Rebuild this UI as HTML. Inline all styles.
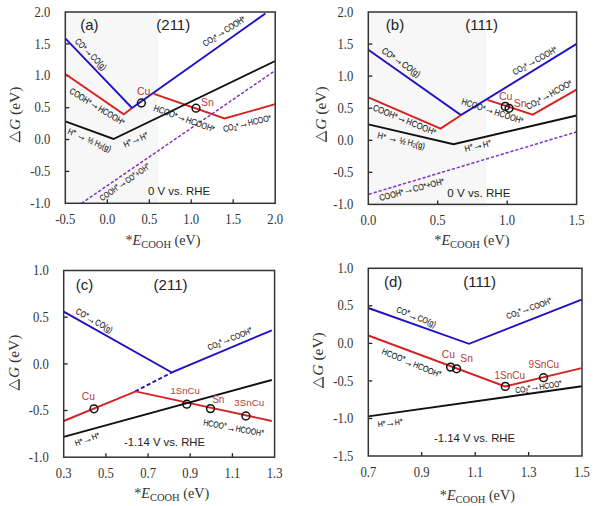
<!DOCTYPE html>
<html><head><meta charset="utf-8"><style>
html,body{margin:0;padding:0;background:#fff;}
svg{display:block;}
.tk{font-family:"Liberation Serif",serif;font-size:14.5px;fill:#333;}
.yt{font-family:"Liberation Serif",serif;font-size:15.5px;fill:#333;}
.ax{font-family:"Liberation Serif",serif;font-size:14.2px;fill:#333;}
.s{font-family:"Liberation Sans",sans-serif;}
</style></head><body>
<svg width="599" height="506" viewBox="0 0 599 506">
<rect width="599" height="506" fill="#fff"/>
<rect x="65.3" y="12.0" width="92.7" height="191.3" fill="#f7f7f7"/>
<text class="tk" transform="translate(65.3,223.8) scale(0.87,1)" text-anchor="middle">-0.5</text>
<line x1="107.3" y1="203.3" x2="107.3" y2="199.3" stroke="#222" stroke-width="1.3"/>
<text class="tk" transform="translate(107.3,223.8) scale(0.87,1)" text-anchor="middle">0.0</text>
<line x1="149.3" y1="203.3" x2="149.3" y2="199.3" stroke="#222" stroke-width="1.3"/>
<text class="tk" transform="translate(149.3,223.8) scale(0.87,1)" text-anchor="middle">0.5</text>
<line x1="191.2" y1="203.3" x2="191.2" y2="199.3" stroke="#222" stroke-width="1.3"/>
<text class="tk" transform="translate(191.2,223.8) scale(0.87,1)" text-anchor="middle">1.0</text>
<line x1="233.2" y1="203.3" x2="233.2" y2="199.3" stroke="#222" stroke-width="1.3"/>
<text class="tk" transform="translate(233.2,223.8) scale(0.87,1)" text-anchor="middle">1.5</text>
<text class="tk" transform="translate(275.2,223.8) scale(0.87,1)" text-anchor="middle">2.0</text>
<text class="tk" transform="translate(50.3,207.9) scale(0.87,1)" text-anchor="end">-1.0</text>
<line x1="65.3" y1="171.4" x2="69.3" y2="171.4" stroke="#222" stroke-width="1.3"/>
<text class="tk" transform="translate(50.3,176.0) scale(0.87,1)" text-anchor="end">-0.5</text>
<line x1="65.3" y1="139.5" x2="69.3" y2="139.5" stroke="#222" stroke-width="1.3"/>
<text class="tk" transform="translate(50.3,144.1) scale(0.87,1)" text-anchor="end">0.0</text>
<line x1="65.3" y1="107.7" x2="69.3" y2="107.7" stroke="#222" stroke-width="1.3"/>
<text class="tk" transform="translate(50.3,112.2) scale(0.87,1)" text-anchor="end">0.5</text>
<line x1="65.3" y1="75.8" x2="69.3" y2="75.8" stroke="#222" stroke-width="1.3"/>
<text class="tk" transform="translate(50.3,80.4) scale(0.87,1)" text-anchor="end">1.0</text>
<line x1="65.3" y1="43.9" x2="69.3" y2="43.9" stroke="#222" stroke-width="1.3"/>
<text class="tk" transform="translate(50.3,48.5) scale(0.87,1)" text-anchor="end">1.5</text>
<text class="tk" transform="translate(50.3,16.6) scale(0.87,1)" text-anchor="end">2.0</text>
<text class="ax" x="125.5" y="244.6">*<tspan font-style="italic">E</tspan><tspan font-size="10.5" dy="3.5">COOH</tspan><tspan dy="-3.5"> (eV)</tspan></text>
<path d="M19.8,142.0 L19.8,131.6 L9.8,136.8 Z" fill="none" stroke="#333" stroke-width="0.8" stroke-linejoin="miter"/>
<line x1="19.5" y1="142.3" x2="19.5" y2="131.3" stroke="#333" stroke-width="1.1"/>
<text class="yt" transform="translate(19.8,130.0) rotate(-90)"><tspan font-style="italic">G</tspan> (eV)</text>
<rect x="368.3" y="12.0" width="118.2" height="192.4" fill="#f7f7f7"/>
<text class="tk" transform="translate(368.3,224.9) scale(0.87,1)" text-anchor="middle">0.0</text>
<line x1="437.7" y1="204.4" x2="437.7" y2="200.4" stroke="#222" stroke-width="1.3"/>
<text class="tk" transform="translate(437.7,224.9) scale(0.87,1)" text-anchor="middle">0.5</text>
<line x1="507.2" y1="204.4" x2="507.2" y2="200.4" stroke="#222" stroke-width="1.3"/>
<text class="tk" transform="translate(507.2,224.9) scale(0.87,1)" text-anchor="middle">1.0</text>
<text class="tk" transform="translate(576.6,224.9) scale(0.87,1)" text-anchor="middle">1.5</text>
<text class="tk" transform="translate(353.3,209.0) scale(0.87,1)" text-anchor="end">-1.0</text>
<line x1="368.3" y1="172.3" x2="372.3" y2="172.3" stroke="#222" stroke-width="1.3"/>
<text class="tk" transform="translate(353.3,176.9) scale(0.87,1)" text-anchor="end">-0.5</text>
<line x1="368.3" y1="140.3" x2="372.3" y2="140.3" stroke="#222" stroke-width="1.3"/>
<text class="tk" transform="translate(353.3,144.9) scale(0.87,1)" text-anchor="end">0.0</text>
<line x1="368.3" y1="108.2" x2="372.3" y2="108.2" stroke="#222" stroke-width="1.3"/>
<text class="tk" transform="translate(353.3,112.8) scale(0.87,1)" text-anchor="end">0.5</text>
<line x1="368.3" y1="76.1" x2="372.3" y2="76.1" stroke="#222" stroke-width="1.3"/>
<text class="tk" transform="translate(353.3,80.7) scale(0.87,1)" text-anchor="end">1.0</text>
<line x1="368.3" y1="44.1" x2="372.3" y2="44.1" stroke="#222" stroke-width="1.3"/>
<text class="tk" transform="translate(353.3,48.7) scale(0.87,1)" text-anchor="end">1.5</text>
<text class="tk" transform="translate(353.3,16.6) scale(0.87,1)" text-anchor="end">2.0</text>
<text class="ax" x="434.3" y="244.6">*<tspan font-style="italic">E</tspan><tspan font-size="10.5" dy="3.5">COOH</tspan><tspan dy="-3.5"> (eV)</tspan></text>
<path d="M326.3,141.8 L326.3,131.4 L316.3,136.6 Z" fill="none" stroke="#333" stroke-width="0.8" stroke-linejoin="miter"/>
<line x1="326.0" y1="142.1" x2="326.0" y2="131.1" stroke="#333" stroke-width="1.1"/>
<text class="yt" transform="translate(326.3,129.8) rotate(-90)"><tspan font-style="italic">G</tspan> (eV)</text>
<text class="tk" transform="translate(63.7,477.7) scale(0.87,1)" text-anchor="middle">0.3</text>
<line x1="105.9" y1="457.2" x2="105.9" y2="453.2" stroke="#222" stroke-width="1.3"/>
<text class="tk" transform="translate(105.9,477.7) scale(0.87,1)" text-anchor="middle">0.5</text>
<line x1="148.1" y1="457.2" x2="148.1" y2="453.2" stroke="#222" stroke-width="1.3"/>
<text class="tk" transform="translate(148.1,477.7) scale(0.87,1)" text-anchor="middle">0.7</text>
<line x1="190.2" y1="457.2" x2="190.2" y2="453.2" stroke="#222" stroke-width="1.3"/>
<text class="tk" transform="translate(190.2,477.7) scale(0.87,1)" text-anchor="middle">0.9</text>
<line x1="232.4" y1="457.2" x2="232.4" y2="453.2" stroke="#222" stroke-width="1.3"/>
<text class="tk" transform="translate(232.4,477.7) scale(0.87,1)" text-anchor="middle">1.1</text>
<text class="tk" transform="translate(274.6,477.7) scale(0.87,1)" text-anchor="middle">1.3</text>
<text class="tk" transform="translate(48.7,461.8) scale(0.87,1)" text-anchor="end">-1.0</text>
<line x1="63.7" y1="410.5" x2="67.7" y2="410.5" stroke="#222" stroke-width="1.3"/>
<text class="tk" transform="translate(48.7,415.1) scale(0.87,1)" text-anchor="end">-0.5</text>
<line x1="63.7" y1="363.9" x2="67.7" y2="363.9" stroke="#222" stroke-width="1.3"/>
<text class="tk" transform="translate(48.7,368.5) scale(0.87,1)" text-anchor="end">0.0</text>
<line x1="63.7" y1="317.2" x2="67.7" y2="317.2" stroke="#222" stroke-width="1.3"/>
<text class="tk" transform="translate(48.7,321.8) scale(0.87,1)" text-anchor="end">0.5</text>
<text class="tk" transform="translate(48.7,275.1) scale(0.87,1)" text-anchor="end">1.0</text>
<text class="ax" x="134.2" y="497.6">*<tspan font-style="italic">E</tspan><tspan font-size="10.5" dy="3.5">COOH</tspan><tspan dy="-3.5"> (eV)</tspan></text>
<path d="M19.2,390.0 L19.2,379.6 L9.2,384.8 Z" fill="none" stroke="#333" stroke-width="0.8" stroke-linejoin="miter"/>
<line x1="18.9" y1="390.3" x2="18.9" y2="379.3" stroke="#333" stroke-width="1.1"/>
<text class="yt" transform="translate(19.2,378.0) rotate(-90)"><tspan font-style="italic">G</tspan> (eV)</text>
<text class="tk" transform="translate(368.3,476.5) scale(0.87,1)" text-anchor="middle">0.7</text>
<line x1="421.7" y1="456.0" x2="421.7" y2="452.0" stroke="#222" stroke-width="1.3"/>
<text class="tk" transform="translate(421.7,476.5) scale(0.87,1)" text-anchor="middle">0.9</text>
<line x1="475.2" y1="456.0" x2="475.2" y2="452.0" stroke="#222" stroke-width="1.3"/>
<text class="tk" transform="translate(475.2,476.5) scale(0.87,1)" text-anchor="middle">1.1</text>
<line x1="528.6" y1="456.0" x2="528.6" y2="452.0" stroke="#222" stroke-width="1.3"/>
<text class="tk" transform="translate(528.6,476.5) scale(0.87,1)" text-anchor="middle">1.3</text>
<text class="tk" transform="translate(582.0,476.5) scale(0.87,1)" text-anchor="middle">1.5</text>
<text class="tk" transform="translate(353.3,460.6) scale(0.87,1)" text-anchor="end">-1.5</text>
<line x1="368.3" y1="418.5" x2="372.3" y2="418.5" stroke="#222" stroke-width="1.3"/>
<text class="tk" transform="translate(353.3,423.1) scale(0.87,1)" text-anchor="end">-1.0</text>
<line x1="368.3" y1="380.9" x2="372.3" y2="380.9" stroke="#222" stroke-width="1.3"/>
<text class="tk" transform="translate(353.3,385.5) scale(0.87,1)" text-anchor="end">-0.5</text>
<line x1="368.3" y1="343.4" x2="372.3" y2="343.4" stroke="#222" stroke-width="1.3"/>
<text class="tk" transform="translate(353.3,348.0) scale(0.87,1)" text-anchor="end">0.0</text>
<line x1="368.3" y1="305.8" x2="372.3" y2="305.8" stroke="#222" stroke-width="1.3"/>
<text class="tk" transform="translate(353.3,310.4) scale(0.87,1)" text-anchor="end">0.5</text>
<text class="tk" transform="translate(353.3,272.9) scale(0.87,1)" text-anchor="end">1.0</text>
<text class="ax" x="439.8" y="499.6">*<tspan font-style="italic">E</tspan><tspan font-size="10.5" dy="3.5">COOH</tspan><tspan dy="-3.5"> (eV)</tspan></text>
<path d="M323.2,387.7 L323.2,377.3 L313.2,382.5 Z" fill="none" stroke="#333" stroke-width="0.8" stroke-linejoin="miter"/>
<line x1="322.9" y1="388.0" x2="322.9" y2="377.0" stroke="#333" stroke-width="1.1"/>
<text class="yt" transform="translate(323.2,375.7) rotate(-90)"><tspan font-style="italic">G</tspan> (eV)</text>
<polyline points="65.3,38.4 132.0,108.0 265.4,13.4" fill="none" stroke="#2012c4" stroke-width="1.9" stroke-linejoin="miter"/>
<polyline points="65.3,74.0 123.8,114.4 132.0,108.0" fill="none" stroke="#d42222" stroke-width="1.9" stroke-linejoin="miter"/>
<polyline points="154.0,93.8 224.6,118.5 275.2,104.2" fill="none" stroke="#d42222" stroke-width="1.9" stroke-linejoin="miter"/>
<polyline points="65.3,121.3 113.5,139.0 275.2,61.0" fill="none" stroke="#111" stroke-width="1.9" stroke-linejoin="miter"/>
<polyline points="81.4,203.4 273.6,71.7" fill="none" stroke="#8232c4" stroke-width="1.5" stroke-linejoin="miter" stroke-dasharray="3.2,1.9"/>
<circle cx="141.4" cy="103" r="3.9" fill="none" stroke="#111" stroke-width="1.5"/>
<circle cx="196.0" cy="108.2" r="3.9" fill="none" stroke="#111" stroke-width="1.5"/>
<text class="s" x="137" y="95" font-size="10.5" fill="#b83a3a" text-anchor="start">Cu</text>
<text class="s" x="201" y="105.5" font-size="10.5" fill="#b83a3a" text-anchor="start">Sn</text>
<text class="s" x="80.2" y="29.8" font-size="15" fill="#222" text-anchor="start">(a)</text>
<text class="s" x="156.3" y="29.8" font-size="15" fill="#222" text-anchor="start">(211)</text>
<text class="s" x="148" y="195" font-size="11.4" fill="#222" text-anchor="start">0 V vs. RHE</text>
<text class="s" transform="translate(76.5,39.9) rotate(45.4)" font-size="9.2" fill="#1a1a1a" stroke="#1a1a1a" stroke-width="0.12" dominant-baseline="central" textLength="40.4" lengthAdjust="spacingAndGlyphs">CO<tspan font-size="95%" baseline-shift="5%">*</tspan><tspan font-size="135%" baseline-shift="8%">&#8594;</tspan>CO(g)</text>
<text class="s" transform="translate(70.3,90.3) rotate(31.4)" font-size="9.0" fill="#1a1a1a" stroke="#1a1a1a" stroke-width="0.12" dominant-baseline="central" textLength="62.8" lengthAdjust="spacingAndGlyphs">COOH<tspan font-size="95%" baseline-shift="5%">*</tspan><tspan font-size="135%" baseline-shift="8%">&#8594;</tspan>HCOOH<tspan font-size="95%" baseline-shift="5%">*</tspan></text>
<text class="s" transform="translate(68.1,130.7) rotate(23.5)" font-size="8.5" fill="#1a1a1a" stroke="#1a1a1a" stroke-width="0.12" dominant-baseline="central" textLength="46.6" lengthAdjust="spacingAndGlyphs">H<tspan font-size="95%" baseline-shift="5%">*</tspan> <tspan font-size="135%" baseline-shift="8%">&#8594;</tspan> &#189; H<tspan font-size="72%" baseline-shift="-30%">2</tspan>(g)</text>
<text class="s" transform="translate(123.8,144.9) rotate(-23.0)" font-size="8.5" fill="#1a1a1a" stroke="#1a1a1a" stroke-width="0.12" dominant-baseline="central" textLength="25.9" lengthAdjust="spacingAndGlyphs">H<tspan font-size="95%" baseline-shift="5%">*</tspan><tspan font-size="135%" baseline-shift="8%">&#8594;</tspan>H<tspan font-size="95%" baseline-shift="5%">*</tspan></text>
<text class="s" transform="translate(154.0,107.7) rotate(19.8)" font-size="9.0" fill="#1a1a1a" stroke="#1a1a1a" stroke-width="0.12" dominant-baseline="central" textLength="64.2" lengthAdjust="spacingAndGlyphs">HCOO<tspan font-size="95%" baseline-shift="5%">*</tspan><tspan font-size="135%" baseline-shift="8%">&#8594;</tspan>HCOOH<tspan font-size="95%" baseline-shift="5%">*</tspan></text>
<text class="s" transform="translate(223.2,129.3) rotate(-13.8)" font-size="9.0" fill="#1a1a1a" stroke="#1a1a1a" stroke-width="0.12" dominant-baseline="central" textLength="49.3" lengthAdjust="spacingAndGlyphs">CO<tspan font-size="72%" baseline-shift="-30%">2</tspan><tspan font-size="95%" baseline-shift="5%">*</tspan><tspan font-size="135%" baseline-shift="8%">&#8594;</tspan>HCOO<tspan font-size="95%" baseline-shift="5%">*</tspan></text>
<text class="s" transform="translate(203.6,44.6) rotate(-33.0)" font-size="9.0" fill="#1a1a1a" stroke="#1a1a1a" stroke-width="0.12" dominant-baseline="central" textLength="48.8" lengthAdjust="spacingAndGlyphs">CO<tspan font-size="72%" baseline-shift="-30%">2</tspan><tspan font-size="95%" baseline-shift="5%">*</tspan><tspan font-size="135%" baseline-shift="8%">&#8594;</tspan>COOH<tspan font-size="95%" baseline-shift="5%">*</tspan></text>
<text class="s" transform="translate(100.4,198.8) rotate(-34.6)" font-size="8.3" fill="#1a1a1a" stroke="#1a1a1a" stroke-width="0.12" dominant-baseline="central" textLength="58.9" lengthAdjust="spacingAndGlyphs">COOH<tspan font-size="95%" baseline-shift="5%">*</tspan><tspan font-size="135%" baseline-shift="8%">&#8594;</tspan>CO<tspan font-size="95%" baseline-shift="5%">*</tspan>+OH<tspan font-size="95%" baseline-shift="5%">*</tspan></text>
<polyline points="368.3,49.7 460.9,115.1 576.6,43.9" fill="none" stroke="#2012c4" stroke-width="1.9" stroke-linejoin="miter"/>
<polyline points="368.3,97.3 440.6,128.6 460.9,115.3" fill="none" stroke="#d42222" stroke-width="1.9" stroke-linejoin="miter"/>
<polyline points="487.3,99.8 532.7,114.6 576.6,89.7" fill="none" stroke="#d42222" stroke-width="1.9" stroke-linejoin="miter"/>
<polyline points="368.3,124.4 453.5,144.2 576.6,115.5" fill="none" stroke="#111" stroke-width="1.9" stroke-linejoin="miter"/>
<polyline points="368.8,194.3 576.2,132.0" fill="none" stroke="#8232c4" stroke-width="1.5" stroke-linejoin="miter" stroke-dasharray="3.2,1.9"/>
<circle cx="505.3" cy="106.4" r="3.9" fill="none" stroke="#111" stroke-width="1.5"/>
<circle cx="509.1" cy="108.3" r="3.9" fill="none" stroke="#111" stroke-width="1.5"/>
<text class="s" x="498.9" y="99.7" font-size="10.5" fill="#b83a3a" text-anchor="start">Cu</text>
<text class="s" x="513.7" y="107.2" font-size="10.5" fill="#b83a3a" text-anchor="start">Sn</text>
<text class="s" x="385.8" y="29.8" font-size="15" fill="#222" text-anchor="start">(b)</text>
<text class="s" x="465.3" y="29.8" font-size="15" fill="#222" text-anchor="start">(111)</text>
<text class="s" x="447.3" y="196.6" font-size="11.6" fill="#222" text-anchor="start">0 V vs. RHE</text>
<text class="s" transform="translate(382.8,49.8) rotate(34.7)" font-size="9.2" fill="#1a1a1a" stroke="#1a1a1a" stroke-width="0.12" dominant-baseline="central" textLength="44.6" lengthAdjust="spacingAndGlyphs">CO<tspan font-size="95%" baseline-shift="5%">*</tspan><tspan font-size="135%" baseline-shift="8%">&#8594;</tspan>CO(g)</text>
<text class="s" transform="translate(373.3,107.2) rotate(22.1)" font-size="9.0" fill="#1a1a1a" stroke="#1a1a1a" stroke-width="0.12" dominant-baseline="central" textLength="67.4" lengthAdjust="spacingAndGlyphs">COOH<tspan font-size="95%" baseline-shift="5%">*</tspan><tspan font-size="135%" baseline-shift="8%">&#8594;</tspan>HCOOH<tspan font-size="95%" baseline-shift="5%">*</tspan></text>
<text class="s" transform="translate(377.8,135.2) rotate(13.1)" font-size="8.8" fill="#1a1a1a" stroke="#1a1a1a" stroke-width="0.12" dominant-baseline="central" textLength="48.4" lengthAdjust="spacingAndGlyphs">H<tspan font-size="95%" baseline-shift="5%">*</tspan> <tspan font-size="135%" baseline-shift="8%">&#8594;</tspan> &#189; H<tspan font-size="72%" baseline-shift="-30%">2</tspan>(g)</text>
<text class="s" transform="translate(464.6,148.7) rotate(-12.4)" font-size="8.5" fill="#1a1a1a" stroke="#1a1a1a" stroke-width="0.12" dominant-baseline="central" textLength="27.0" lengthAdjust="spacingAndGlyphs">H<tspan font-size="95%" baseline-shift="5%">*</tspan><tspan font-size="135%" baseline-shift="8%">&#8594;</tspan>H<tspan font-size="95%" baseline-shift="5%">*</tspan></text>
<text class="s" transform="translate(461.8,101.2) rotate(17.9)" font-size="9.0" fill="#1a1a1a" stroke="#1a1a1a" stroke-width="0.12" dominant-baseline="central" textLength="64.4" lengthAdjust="spacingAndGlyphs">HCOO<tspan font-size="95%" baseline-shift="5%">*</tspan><tspan font-size="135%" baseline-shift="8%">&#8594;</tspan>HCOOH<tspan font-size="95%" baseline-shift="5%">*</tspan></text>
<text class="s" transform="translate(526.7,107.5) rotate(-29.5)" font-size="9.0" fill="#1a1a1a" stroke="#1a1a1a" stroke-width="0.12" dominant-baseline="central" textLength="51.4" lengthAdjust="spacingAndGlyphs">CO<tspan font-size="72%" baseline-shift="-30%">2</tspan><tspan font-size="95%" baseline-shift="5%">*</tspan><tspan font-size="135%" baseline-shift="8%">&#8594;</tspan>HCOO<tspan font-size="95%" baseline-shift="5%">*</tspan></text>
<text class="s" transform="translate(513.2,73.0) rotate(-29.5)" font-size="9.0" fill="#1a1a1a" stroke="#1a1a1a" stroke-width="0.12" dominant-baseline="central" textLength="49.4" lengthAdjust="spacingAndGlyphs">CO<tspan font-size="72%" baseline-shift="-30%">2</tspan><tspan font-size="95%" baseline-shift="5%">*</tspan><tspan font-size="135%" baseline-shift="8%">&#8594;</tspan>COOH<tspan font-size="95%" baseline-shift="5%">*</tspan></text>
<text class="s" transform="translate(379.4,198.1) rotate(-14.9)" font-size="9.0" fill="#1a1a1a" stroke="#1a1a1a" stroke-width="0.12" dominant-baseline="central" textLength="66.8" lengthAdjust="spacingAndGlyphs">COOH<tspan font-size="95%" baseline-shift="5%">*</tspan><tspan font-size="135%" baseline-shift="8%">&#8594;</tspan>CO<tspan font-size="95%" baseline-shift="5%">*</tspan>+OH<tspan font-size="95%" baseline-shift="5%">*</tspan></text>
<polyline points="63.7,311.7 171.8,372.5 271.8,330.3" fill="none" stroke="#2012c4" stroke-width="1.9" stroke-linejoin="miter"/>
<polyline points="135.2,391.4 171.8,372.5" fill="none" stroke="#2012c4" stroke-width="1.9" stroke-linejoin="miter" stroke-dasharray="4,2.5"/>
<polyline points="63.7,421.0 135.6,391.4 271.8,421.0" fill="none" stroke="#d42222" stroke-width="1.9" stroke-linejoin="miter"/>
<polyline points="63.7,436.8 271.8,380.0" fill="none" stroke="#111" stroke-width="1.9" stroke-linejoin="miter"/>
<circle cx="94" cy="408.8" r="3.9" fill="none" stroke="#111" stroke-width="1.5"/>
<circle cx="186.8" cy="404.2" r="3.9" fill="none" stroke="#111" stroke-width="1.5"/>
<circle cx="210.5" cy="408.6" r="3.9" fill="none" stroke="#111" stroke-width="1.5"/>
<circle cx="245.9" cy="416" r="3.9" fill="none" stroke="#111" stroke-width="1.5"/>
<text class="s" x="81.8" y="400.4" font-size="10.3" fill="#b83a3a" text-anchor="start">Cu</text>
<text class="s" x="170.5" y="393.5" font-size="9.6" fill="#b83a3a" text-anchor="start">1SnCu</text>
<text class="s" x="212.2" y="403.4" font-size="10.0" fill="#b83a3a" text-anchor="start">Sn</text>
<text class="s" x="234.3" y="406.4" font-size="9.8" fill="#b83a3a" text-anchor="start">3SnCu</text>
<text class="s" x="75.8" y="289.9" font-size="15" fill="#222" text-anchor="start">(c)</text>
<text class="s" x="153.6" y="289.9" font-size="15" fill="#222" text-anchor="start">(211)</text>
<text class="s" x="124" y="446" font-size="11.3" fill="#222" text-anchor="start">-1.14 V vs. RHE</text>
<text class="s" transform="translate(76.6,310.4) rotate(29.6)" font-size="8.6" fill="#1a1a1a" stroke="#1a1a1a" stroke-width="0.12" dominant-baseline="central" textLength="40.8" lengthAdjust="spacingAndGlyphs">CO<tspan font-size="95%" baseline-shift="5%">*</tspan><tspan font-size="135%" baseline-shift="8%">&#8594;</tspan>CO(g)</text>
<text class="s" transform="translate(207.8,347.8) rotate(-22.2)" font-size="8.3" fill="#1a1a1a" stroke="#1a1a1a" stroke-width="0.12" dominant-baseline="central" textLength="47.6" lengthAdjust="spacingAndGlyphs">CO<tspan font-size="72%" baseline-shift="-30%">2</tspan><tspan font-size="95%" baseline-shift="5%">*</tspan><tspan font-size="135%" baseline-shift="8%">&#8594;</tspan>COOH<tspan font-size="95%" baseline-shift="5%">*</tspan></text>
<text class="s" transform="translate(75.2,443.9) rotate(-19.6)" font-size="8.0" fill="#1a1a1a" stroke="#1a1a1a" stroke-width="0.12" dominant-baseline="central" textLength="25.7" lengthAdjust="spacingAndGlyphs">H<tspan font-size="95%" baseline-shift="5%">*</tspan><tspan font-size="135%" baseline-shift="8%">&#8594;</tspan>H<tspan font-size="95%" baseline-shift="5%">*</tspan></text>
<text class="s" transform="translate(203.5,422.2) rotate(10.7)" font-size="8.6" fill="#1a1a1a" stroke="#1a1a1a" stroke-width="0.12" dominant-baseline="central" textLength="61.2" lengthAdjust="spacingAndGlyphs">HCOO<tspan font-size="95%" baseline-shift="5%">*</tspan><tspan font-size="135%" baseline-shift="8%">&#8594;</tspan>HCOOH<tspan font-size="95%" baseline-shift="5%">*</tspan></text>
<polyline points="368.3,308.0 469.0,343.8 581.6,299.7" fill="none" stroke="#2012c4" stroke-width="1.9" stroke-linejoin="miter"/>
<polyline points="368.3,335.5 505.2,386.4 581.6,368.2" fill="none" stroke="#d42222" stroke-width="1.9" stroke-linejoin="miter"/>
<polyline points="368.3,416.4 581.8,386.3" fill="none" stroke="#111" stroke-width="1.9" stroke-linejoin="miter"/>
<circle cx="450.6" cy="367.1" r="3.9" fill="none" stroke="#111" stroke-width="1.5"/>
<circle cx="456.6" cy="368.8" r="3.9" fill="none" stroke="#111" stroke-width="1.5"/>
<circle cx="505.3" cy="386.4" r="3.9" fill="none" stroke="#111" stroke-width="1.5"/>
<circle cx="543.5" cy="377.7" r="3.9" fill="none" stroke="#111" stroke-width="1.5"/>
<text class="s" x="441.8" y="358.1" font-size="10.3" fill="#b83a3a" text-anchor="start">Cu</text>
<text class="s" x="460.3" y="361.6" font-size="10.3" fill="#b83a3a" text-anchor="start">Sn</text>
<text class="s" x="494.5" y="379.1" font-size="10.0" fill="#b83a3a" text-anchor="start">1SnCu</text>
<text class="s" x="528.6" y="368.3" font-size="10.0" fill="#b83a3a" text-anchor="start">9SnCu</text>
<text class="s" x="383.9" y="286.8" font-size="15" fill="#222" text-anchor="start">(d)</text>
<text class="s" x="463.3" y="286.8" font-size="15" fill="#222" text-anchor="start">(111)</text>
<text class="s" x="434" y="442.2" font-size="11.3" fill="#222" text-anchor="start">-1.14 V vs. RHE</text>
<text class="s" transform="translate(396.8,309.0) rotate(21.7)" font-size="8.6" fill="#1a1a1a" stroke="#1a1a1a" stroke-width="0.12" dominant-baseline="central" textLength="42.0" lengthAdjust="spacingAndGlyphs">CO<tspan font-size="95%" baseline-shift="5%">*</tspan><tspan font-size="135%" baseline-shift="8%">&#8594;</tspan>CO(g)</text>
<text class="s" transform="translate(506.5,316.3) rotate(-19.6)" font-size="8.3" fill="#1a1a1a" stroke="#1a1a1a" stroke-width="0.12" dominant-baseline="central" textLength="47.8" lengthAdjust="spacingAndGlyphs">CO<tspan font-size="72%" baseline-shift="-30%">2</tspan><tspan font-size="95%" baseline-shift="5%">*</tspan><tspan font-size="135%" baseline-shift="8%">&#8594;</tspan>COOH<tspan font-size="95%" baseline-shift="5%">*</tspan></text>
<text class="s" transform="translate(382.4,350.7) rotate(22.7)" font-size="8.6" fill="#1a1a1a" stroke="#1a1a1a" stroke-width="0.12" dominant-baseline="central" textLength="63.1" lengthAdjust="spacingAndGlyphs">HCOO<tspan font-size="95%" baseline-shift="5%">*</tspan><tspan font-size="135%" baseline-shift="8%">&#8594;</tspan>HCOOH<tspan font-size="95%" baseline-shift="5%">*</tspan></text>
<text class="s" transform="translate(515.3,390.4) rotate(-8.6)" font-size="8.3" fill="#1a1a1a" stroke="#1a1a1a" stroke-width="0.12" dominant-baseline="central" textLength="46.9" lengthAdjust="spacingAndGlyphs">CO<tspan font-size="72%" baseline-shift="-30%">2</tspan><tspan font-size="95%" baseline-shift="5%">*</tspan><tspan font-size="135%" baseline-shift="8%">&#8594;</tspan>HCOO<tspan font-size="95%" baseline-shift="5%">*</tspan></text>
<text class="s" transform="translate(377.6,424.6) rotate(-6.4)" font-size="7.8" fill="#1a1a1a" stroke="#1a1a1a" stroke-width="0.12" dominant-baseline="central" textLength="25.1" lengthAdjust="spacingAndGlyphs">H<tspan font-size="95%" baseline-shift="5%">*</tspan><tspan font-size="135%" baseline-shift="8%">&#8594;</tspan>H<tspan font-size="95%" baseline-shift="5%">*</tspan></text>
<rect x="65.3" y="12.0" width="209.9" height="191.3" fill="none" stroke="#333" stroke-width="1.5"/>
<rect x="368.3" y="12.0" width="208.3" height="192.4" fill="none" stroke="#333" stroke-width="1.5"/>
<rect x="63.7" y="270.5" width="210.9" height="186.7" fill="none" stroke="#333" stroke-width="1.5"/>
<rect x="368.3" y="268.3" width="213.7" height="187.7" fill="none" stroke="#333" stroke-width="1.5"/>
</svg></body></html>
